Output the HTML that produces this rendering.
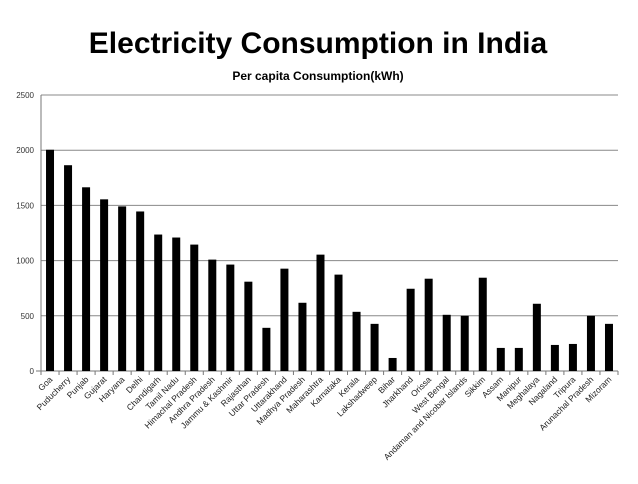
<!DOCTYPE html>
<html><head><meta charset="utf-8"><style>
body{margin:0;background:#fff;width:638px;height:479px;overflow:hidden;font-family:"Liberation Sans",sans-serif}
</style></head><body>
<svg width="638" height="479" id="c" font-family="Liberation Sans, sans-serif">
<text x="318" y="53" text-anchor="middle" font-size="30" font-weight="bold">Electricity Consumption in India</text>
<text x="318" y="80" text-anchor="middle" font-size="12" font-weight="bold">Per capita Consumption(kWh)</text>
<g id="grid"></g><g id="bars"></g><g id="labels"></g>
</svg>
<script>
const categories=["Goa","Puducherry","Punjab","Gujarat","Haryana","Delhi","Chandigarh","Tamil Nadu","Himachal Pradesh","Andhra Pradesh","Jammu & Kashmir","Rajasthan","Uttar Pradesh","Uttarakhand","Madhya Pradesh","Maharashtra","Karnataka","Kerala","Lakshadweep","Bihar","Jharkhand","Orissa","West Bengal","Andaman and Nicobar Islands","Sikkim","Assam","Manipur","Meghalaya","Nagaland","Tripura","Arunachal Pradesh","Mizoram"];
const values=[2004,1864,1664,1555,1491,1445,1236,1209,1145,1009,964,809,391,927,618,1054,873,536,427,118,745,836,509,500,845,209,209,609,236,245,500,427];
const ticks=[0,500,1000,1500,2000,2500];
const NS="http://www.w3.org/2000/svg";
const X0=41,X1=618,Y0=371,Y1=95,MAX=2500;
const bw=(X1-X0)/categories.length;
const y=v=>Y0-(v/MAX)*(Y0-Y1);
const xc=i=>X0+bw*(i+0.5);
function mk(t,a,p){const e=document.createElementNS(NS,t);for(const k in a)e.setAttribute(k,a[k]);p.appendChild(e);return e;}
const g=document.getElementById('grid'),b=document.getElementById('bars'),l=document.getElementById('labels');
ticks.forEach(t=>{
 const ln=mk('line',{x1:t?X0:36,x2:X1,y1:y(t),y2:y(t),stroke:t?'#888':'#777','stroke-width':1},g);
 
 
 const tx=mk('text',{x:34,y:y(t)+3,'text-anchor':'end','font-size':8,fill:'#333'},g);
 tx.textContent=t;
 
 
});
const ax=mk('line',{x1:X0,x2:X0,y1:Y1,y2:Y0+4,stroke:'#777'},g);


for(let i=0;i<=categories.length;i++){const tk=mk('line',{x1:X0+bw*i,x2:X0+bw*i,y1:Y0,y2:Y0+4,stroke:'#777'},g);
 
 }
categories.forEach((c,i)=>{
 const r=mk('rect',{x:xc(i)-4,y:y(values[i]),width:8,height:Y0-y(values[i]),fill:'#000'},b);
 
 
 const t=mk('text',{x:xc(i)+3,y:Y0+9,'text-anchor':'end','font-size':8.5,fill:'#222',transform:`rotate(-45 ${xc(i)+3} ${Y0+9})`},l);
 t.textContent=c;
 
 
});
</script>
</body></html>
